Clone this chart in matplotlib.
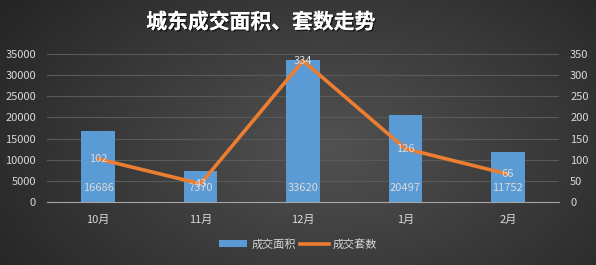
import numpy as np
import matplotlib
matplotlib.use("Agg")
import matplotlib.pyplot as plt
import matplotlib.patheffects as pe
from matplotlib.lines import Line2D
from matplotlib.patches import Patch

plt.rcParams['font.family'] = ['Noto Sans CJK SC', 'DejaVu Sans']

months = ['10月', '11月', '12月', '1月', '2月']
area = [16686, 7370, 33620, 20497, 11752]
units = [102, 43, 334, 126, 66]
left_ticks = [0, 5000, 10000, 15000, 20000, 25000, 30000, 35000]
right_ticks = [0, 50, 100, 150, 200, 250, 300, 350]
title = '城东成交面积、套数走势'

W, H = 596, 265
fig = plt.figure(figsize=(W / 100, H / 100), dpi=100)

# background radial gradient
bg = fig.add_axes([0, 0, 1, 1])
yy, xx = np.mgrid[0:H, 0:W]
cx, cy = W * 0.55, H * 0.55
r = np.sqrt(((xx - cx) / (W * 0.65)) ** 2 + ((yy - cy) / (H * 0.9)) ** 2)
val = np.clip(0.32 - 0.17 * r, 0.13, 0.32)
bg.imshow(np.dstack([val, val, val]), aspect='auto', extent=[0, 1, 0, 1])
bg.axis('off')

l, r_, b, t = 47 / W, 559 / W, 1 - 202 / H, 1 - 54 / H
ax = fig.add_axes([l, b, r_ - l, t - b])
ax.patch.set_alpha(0)
ax2 = ax.twinx()

x = np.arange(len(months))
txtc = '#d9d9d9'
ax.bar(x, area, width=0.33, color='#5b9bd5', zorder=2)
ax.set_ylim(0, 35000)
ax.set_xlim(-0.5, len(months) - 0.5)
ax.set_yticks(left_ticks)
ax.set_yticklabels([str(v) for v in left_ticks])
ax.set_xticks(x)
ax.set_xticklabels(months)
ax.grid(axis='y', color='#5a5a5a', linewidth=0.8, zorder=0)
ax.set_axisbelow(True)
for s in ['top', 'left', 'right']:
    ax.spines[s].set_visible(False)
ax.spines['bottom'].set_color('#a6a6a6')
ax.tick_params(axis='both', length=0, colors=txtc, labelsize=8)
ax.tick_params(axis='x', pad=9)
ax.tick_params(axis='y', pad=8)
for xi, v in zip(x, area):
    ax.text(xi, 3300, str(v), ha='center', va='center', color=txtc, fontsize=8, zorder=5)

ax2.plot(x, units, color='#ed7d31', linewidth=2.6, solid_capstyle='round', zorder=3)
ax2.set_ylim(0, 350)
ax2.set_yticks(right_ticks)
ax2.set_yticklabels([str(v) for v in right_ticks])
for s in ['top', 'left', 'right', 'bottom']:
    ax2.spines[s].set_visible(False)
ax2.tick_params(axis='y', length=0, colors=txtc, labelsize=8, pad=8)
for xi, v in zip(x, units):
    ax2.text(xi, v, str(v), ha='center', va='center', color=txtc, fontsize=8, zorder=6)

fig.text(261 / W, 1 - 22 / H, title, ha='center', va='center', color='white',
         fontsize=15, fontweight='bold',
         path_effects=[pe.withSimplePatchShadow(offset=(1, -1), shadow_rgbFace='black', alpha=0.6), pe.Normal()])

handles = [Patch(facecolor='#5b9bd5', edgecolor='none'),
           Line2D([0], [0], color='#ed7d31', linewidth=2.6)]
fig.legend(handles, ['成交面积', '成交套数'], loc='center', bbox_to_anchor=(298 / W, 1 - 244 / H),
           ncol=2, frameon=False, fontsize=8, labelcolor=txtc, handlelength=2.6,
           handletextpad=0.4, columnspacing=0.3, handleheight=0.6)

fig.savefig('out.png', dpi=100)
